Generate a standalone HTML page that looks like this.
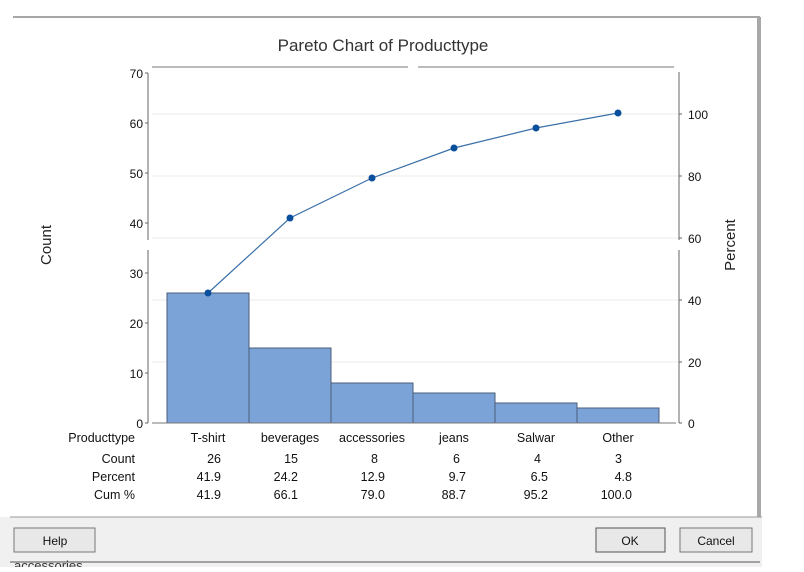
<!DOCTYPE html><html><head><style>body{margin:0;background:#fff;width:804px;height:567px;overflow:hidden;font-family:"Liberation Sans",sans-serif}</style></head><body>
<svg width="804" height="567" xmlns="http://www.w3.org/2000/svg" font-family="Liberation Sans, sans-serif">
<rect x="0" y="0" width="804" height="567" fill="#fff"/>
<line x1="13" y1="17" x2="760" y2="17" stroke="#888" stroke-width="1.5"/>
<rect x="757" y="17" width="4" height="500" fill="#a8a8a8"/>
<rect x="0" y="517" width="762" height="50" fill="#f0f0f0"/>
<line x1="10" y1="517" x2="762" y2="517" stroke="#999"/>
<text x="383" y="51" font-size="17" text-anchor="middle" fill="#333">Pareto Chart of Producttype</text>
<g stroke="#777" fill="none"><line x1="152" y1="67" x2="408" y2="67"/><line x1="418" y1="67" x2="674" y2="67"/></g>
<g stroke="#ebebeb"><line x1="152" y1="114" x2="678" y2="114"/><line x1="152" y1="176" x2="678" y2="176"/><line x1="152" y1="238" x2="678" y2="238"/><line x1="152" y1="300" x2="678" y2="300"/><line x1="152" y1="362" x2="678" y2="362"/></g>
<g stroke="#666"><line x1="148" y1="73" x2="148" y2="240"/><line x1="148" y1="250" x2="148" y2="423"/><line x1="679" y1="72" x2="679" y2="240"/><line x1="679" y1="250" x2="679" y2="423"/>
<line x1="145" y1="73" x2="148" y2="73"/><line x1="145" y1="123" x2="148" y2="123"/><line x1="145" y1="173" x2="148" y2="173"/><line x1="145" y1="223" x2="148" y2="223"/><line x1="145" y1="273" x2="148" y2="273"/><line x1="145" y1="323" x2="148" y2="323"/><line x1="145" y1="373" x2="148" y2="373"/><line x1="145" y1="423" x2="148" y2="423"/>
<line x1="679" y1="114" x2="682" y2="114"/><line x1="679" y1="176" x2="682" y2="176"/><line x1="679" y1="238" x2="682" y2="238"/><line x1="679" y1="300" x2="682" y2="300"/><line x1="679" y1="362" x2="682" y2="362"/><line x1="679" y1="423" x2="682" y2="423"/></g>
<g font-size="12" fill="#111" text-anchor="end"><text x="143" y="78">70</text><text x="143" y="128">60</text><text x="143" y="178">50</text><text x="143" y="228">40</text><text x="143" y="278">30</text><text x="143" y="328">20</text><text x="143" y="378">10</text><text x="143" y="428">0</text></g>
<g font-size="12" fill="#111"><text x="688" y="119">100</text><text x="688" y="181">80</text><text x="688" y="243">60</text><text x="688" y="305">40</text><text x="688" y="367">20</text><text x="688" y="428">0</text></g>
<text transform="translate(51,245) rotate(-90)" font-size="15" text-anchor="middle" fill="#222">Count</text>
<text transform="translate(735,245) rotate(-90)" font-size="15" text-anchor="middle" fill="#222">Percent</text>
<g fill="#7ba3d8" stroke="#4a5e78" stroke-width="1"><rect x="167" y="293" width="82" height="130"/><rect x="249" y="348" width="82" height="75"/><rect x="331" y="383" width="82" height="40"/><rect x="413" y="393" width="82" height="30"/><rect x="495" y="403" width="82" height="20"/><rect x="577" y="408" width="82" height="15"/></g>
<line x1="152" y1="423" x2="676" y2="423" stroke="#777"/>
<polyline points="208,293 290,218 372,178 454,148 536,128 618,113" fill="none" stroke="#3a6fa8" stroke-width="1.2"/>
<g fill="#0a4f9c"><circle cx="208" cy="293" r="3.5"/><circle cx="290" cy="218" r="3.5"/><circle cx="372" cy="178" r="3.5"/><circle cx="454" cy="148" r="3.5"/><circle cx="536" cy="128" r="3.5"/><circle cx="618" cy="113" r="3.5"/></g>
<g font-size="12.5" fill="#111" text-anchor="end"><text x="135" y="442">Producttype</text><text x="135" y="463">Count</text><text x="135" y="481">Percent</text><text x="135" y="499">Cum %</text></g>
<g font-size="12.5" fill="#111" text-anchor="middle"><text x="208" y="442">T-shirt</text><text x="290" y="442">beverages</text><text x="372" y="442">accessories</text><text x="454" y="442">jeans</text><text x="536" y="442">Salwar</text><text x="618" y="442">Other</text></g>
<g font-size="12.5" fill="#111" text-anchor="end">
<text x="221" y="463">26</text><text x="298" y="463">15</text><text x="378" y="463">8</text><text x="460" y="463">6</text><text x="541" y="463">4</text><text x="622" y="463">3</text>
<text x="221" y="481">41.9</text><text x="298" y="481">24.2</text><text x="385" y="481">12.9</text><text x="466" y="481">9.7</text><text x="548" y="481">6.5</text><text x="632" y="481">4.8</text>
<text x="221" y="499">41.9</text><text x="298" y="499">66.1</text><text x="385" y="499">79.0</text><text x="466" y="499">88.7</text><text x="548" y="499">95.2</text><text x="632" y="499">100.0</text></g>
<rect x="14" y="528" width="81" height="24" fill="#e8e8e8" stroke="#777"/><text x="55" y="545" font-size="12" text-anchor="middle" fill="#111">Help</text>
<rect x="596" y="528" width="69" height="24" fill="#e8e8e8" stroke="#555"/><text x="630" y="545" font-size="12" text-anchor="middle" fill="#111">OK</text>
<rect x="680" y="528" width="72" height="24" fill="#e8e8e8" stroke="#777"/><text x="716" y="545" font-size="12" text-anchor="middle" fill="#111">Cancel</text>
<line x1="10" y1="562" x2="760" y2="562" stroke="#555"/>
<text x="14" y="570" font-size="13" fill="#333">accessories</text>
</svg></body></html>
